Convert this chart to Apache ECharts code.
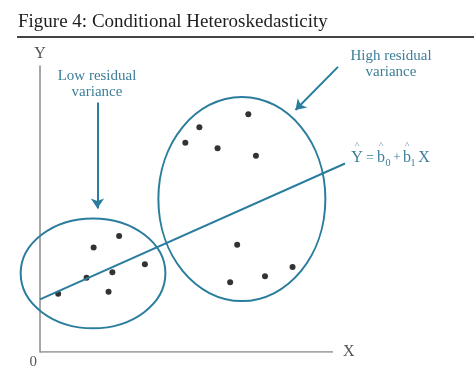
<!DOCTYPE html>
<html>
<head>
<meta charset="utf-8">
<style>html,body{margin:0;padding:0;background:#fff;}#c{width:474px;height:371px;}</style>
<script src="https://cdn.jsdelivr.net/npm/echarts@6/dist/echarts.min.js"></script>
</head>
<body>
<div id="c"></div>
<script>
// Data (in chart units: x 0..10, y 0..10)
const lowPoints = [[0.62,2.04],[1.59,2.60],[1.83,3.65],[2.70,4.06],[2.47,2.79],[2.34,2.11],[3.58,3.07]];
const highPoints = [[5.44,7.86],[4.96,7.32],[6.06,7.12],[7.11,8.31],[7.37,6.86],[6.73,3.75],[6.49,2.44],[7.68,2.65],[8.62,2.97]];
const regressionLine = [[0,1.84],[10.41,6.59]];
const xAxisLine = [[0,0],[10,0]];
// ellipses: [centerX, centerY, radiusX, radiusY]
const ellipses = [[1.81,2.75,2.47,1.92],[6.89,5.35,2.85,3.57]];
const arrows = [
  {coords: [[1.96,8.72],[1.96,5.02]]},
  {coords: [[10.17,9.97],[8.72,8.46]]}
];

const teal = '#2b7d9d';
const textTeal = '#3d7f98';
const serif = '"Liberation Serif", "DejaVu Serif", serif';

function t(text, x, y, size) {
  return {type: 'text', x: x, y: y, style: {text: text, font: size + 'px ' + serif, fill: textTeal, align: 'center', verticalAlign: 'middle'}};
}

const chart = echarts.init(document.getElementById('c'));
chart.setOption({
  animation: false,
  grid: {left: 40, right: 129, top: 66, bottom: 19},
  xAxis: {
    type: 'value', min: 0, max: 10.41, interval: 10.41,
    name: 'X', nameLocation: 'end', nameGap: -2,
    nameTextStyle: {fontFamily: serif, fontSize: 16, color: '#555', verticalAlign: 'middle'},
    axisLine: {show: false},
    axisTick: {show: false}, splitLine: {show: false},
    axisLabel: {formatter: v => v === 0 ? '0' : '', align: 'right', padding: [0,3,0,0], margin: 3,
      fontFamily: serif, fontSize: 15, color: '#555'}
  },
  yAxis: {
    type: 'value', min: 0, max: 10, interval: 10,
    name: 'Y', nameLocation: 'end', nameGap: 4,
    nameTextStyle: {fontFamily: serif, fontSize: 16, color: '#555', align: 'center'},
    axisLine: {show: true, lineStyle: {color: '#8a8a8a', width: 1.5}},
    axisTick: {show: false}, splitLine: {show: false}, axisLabel: {show: false}
  },
  graphic: [
    {type: 'text', left: 18, top: 13, style: {text: 'Figure 4: Conditional Heteroskedasticity', font: '19px ' + serif, fill: '#1e1e1e'}},
    {type: 'rect', shape: {x: 17, y: 36, width: 457, height: 2}, style: {fill: '#444'}},
    t('Low residual', 97, 76, 15),
    t('variance', 97, 92, 15),
    t('High residual', 391, 56, 15),
    t('variance', 391, 72, 15),
    // equation  Ŷ = b̂0 + b̂1X
    t('Y', 357, 158, 16), t('^', 357, 146, 9),
    t('=', 370, 158, 14),
    t('b', 381, 158, 16), t('^', 381, 146, 9),
    t('0', 388, 163, 10),
    t('+', 397, 158, 13),
    t('b', 407, 158, 16), t('^', 407, 146, 9),
    t('1', 413, 163, 10),
    t('X', 424, 158, 16)
  ],
  series: [
    {
      type: 'line', data: xAxisLine, symbol: 'none', silent: true,
      lineStyle: {color: '#8a8a8a', width: 1.5}
    },
    {
      type: 'custom', clip: false, silent: true,
      data: ellipses,
      encode: {x: 0, y: 1},
      renderItem: function (params, api) {
        const c = api.coord([api.value(0), api.value(1)]);
        const s = api.size([api.value(2), api.value(3)]);
        return {type: 'ellipse', shape: {cx: c[0], cy: c[1], rx: s[0], ry: s[1]},
          style: {fill: 'none', stroke: teal, lineWidth: 2}};
      }
    },
    {
      type: 'line', data: regressionLine, clip: false, symbol: 'none', silent: true,
      lineStyle: {color: teal, width: 2}
    },
    {
      type: 'lines', coordinateSystem: 'cartesian2d', data: arrows, silent: true,
      symbol: ['none', 'arrow'], symbolSize: [0, 10],
      lineStyle: {color: teal, width: 2, opacity: 1}
    },
    {
      type: 'scatter', data: lowPoints.concat(highPoints), symbolSize: 6, silent: true,
      itemStyle: {color: '#000'}
    }
  ]
});
</script>
</body>
</html>
